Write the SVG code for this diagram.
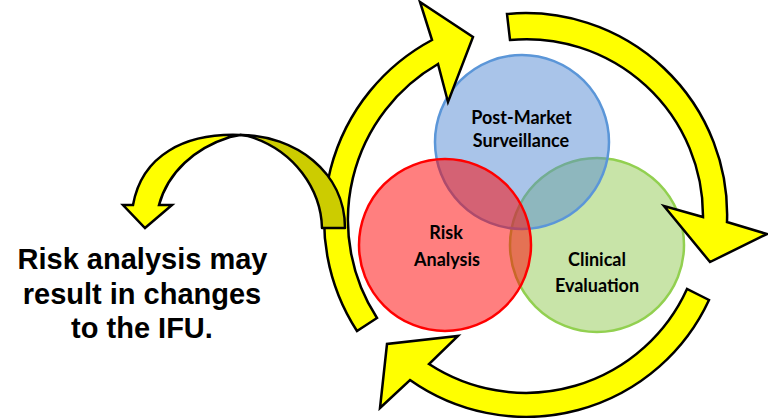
<svg xmlns="http://www.w3.org/2000/svg" width="768" height="418" viewBox="0 0 768 418">
<style>
.arrow{fill:#ffff00;stroke:#000;stroke-width:2.5;stroke-linejoin:miter;stroke-miterlimit:10}
.fold{fill:#cccc00;stroke:#000;stroke-width:2.5;stroke-linejoin:round}
.c{stroke-width:2.5}
.lbl{font-family:"Lato","Open Sans",sans-serif;font-weight:700;font-size:18px;fill:#000;text-anchor:middle}
.note{font-family:"Liberation Sans",Arial,sans-serif;font-weight:700;font-size:29px;fill:#000;text-anchor:middle}
</style>
<rect width="768" height="418" fill="#fff"/>
<g id="clinical-evaluation">
<circle class="c" cx="597" cy="245" r="87" fill="#91c951" fill-opacity=".5" stroke="#92d050"/>
<text class="lbl" x="597" y="266">Clinical</text>
<text class="lbl" x="597" y="292">Evaluation</text>
</g>
<g id="post-market-surveillance">
<circle class="c" cx="522" cy="142" r="87" fill="#5389d3" fill-opacity=".5" stroke="#5b96d8"/>
<text class="lbl" x="521.5" y="124">Post-Market</text>
<text class="lbl" x="521" y="147">Surveillance</text>
</g>
<g id="risk-analysis">
<circle class="c" cx="445" cy="245" r="86" fill="#ff0000" fill-opacity=".5" stroke="#ff0000"/>
<text class="lbl" x="446" y="239">Risk</text>
<text class="lbl" x="447" y="266">Analysis</text>
</g>
<g id="connectors">
<path class="arrow" d="M507 14 A 201.5 201.5 0 0 1 727 222 L767 234 L710 262 L664 206 L703 217 A 176.5 176.5 0 0 0 510 40 Z"/>
<path class="arrow" d="M709 300 A 201.5 201.5 0 0 1 410 380 L380 408 L387 344 L458 336 L429 364 A 177 177 0 0 0 687 289 Z"/>
<path class="arrow" d="M357 331 A 204 204 0 0 1 432 40 L420 2 L473 37 L448 102 L438 64 A 180 180 0 0 0 377 318 Z"/>
<path class="arrow" d="M240 135 C 185 133 142 155 133 205 L123 205 L145 228 L172 205 L159 205 C 168 172 195 148 230 137 Z"/>
<path class="fold" d="M240 135 C 295 135 345 172 345 228 L322 228 C 321 190 295 150 248 136 Z"/>
</g>
<g id="note">
<text class="note" x="142.5" y="269">Risk analysis may</text>
<text class="note" x="142" y="304">result in changes</text>
<text class="note" x="142" y="338">to the IFU.</text>
</g>
</svg>
